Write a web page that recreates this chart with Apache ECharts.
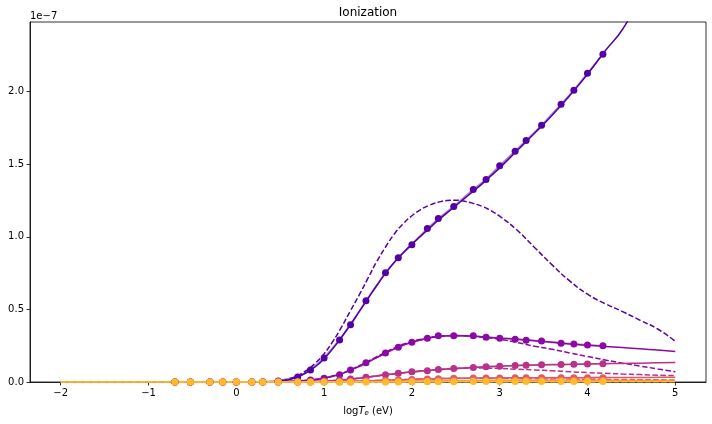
<!DOCTYPE html>
<html>
<head>
<meta charset="utf-8">
<script src="https://cdn.jsdelivr.net/npm/echarts@6/dist/echarts.min.js"></script>
<style>html,body{margin:0;padding:0;background:#fff;}#c{width:712px;height:424px;}</style>
</head>
<body>
<div id="c"></div>
<script>
// x grid (log10 Te) for model curves
const fitX = [-2,-1.5,-1,-0.5,0,0.2,0.4,0.5,0.6,0.7,0.8,0.9,1.0,1.1,1.2,1.3,1.4,1.5,1.6,1.7,1.8,1.9,2.0,2.1,2.2,2.3,2.4,2.5,2.6,2.7,2.8,2.9,3.0,3.2,3.4,3.6,3.8,4.0,4.2,4.4,4.6,4.8,5.0];
// values in units of 1e-7
const fit1 = [0,0,0,0,0,0,0.001,0.005,0.015,0.035,0.065,0.105,0.16,0.23,0.31,0.395,0.485,0.575,0.665,0.75,0.825,0.89,0.95,1.005,1.06,1.115,1.165,1.215,1.265,1.315,1.365,1.42,1.475,1.595,1.715,1.84,1.975,2.12,2.28,2.43,2.66,3.0,3.4];
const dash1 = [0,0,0,0,0,0,0.002,0.008,0.022,0.045,0.08,0.13,0.195,0.28,0.38,0.49,0.60,0.715,0.83,0.93,1.02,1.09,1.145,1.188,1.218,1.238,1.25,1.252,1.245,1.23,1.21,1.18,1.142,1.045,0.925,0.805,0.695,0.605,0.54,0.485,0.425,0.365,0.28];
const fit2 = [0,0,0,0,0,0,0,0.001,0.003,0.006,0.01,0.016,0.026,0.04,0.057,0.08,0.107,0.137,0.168,0.198,0.228,0.254,0.274,0.29,0.304,0.313,0.318,0.32,0.319,0.316,0.311,0.306,0.302,0.294,0.284,0.273,0.262,0.253,0.245,0.237,0.229,0.22,0.21];
const dash2 = [0,0,0,0,0,0,0,0.001,0.003,0.006,0.01,0.017,0.027,0.042,0.06,0.084,0.112,0.143,0.175,0.205,0.235,0.26,0.28,0.295,0.307,0.315,0.319,0.32,0.318,0.314,0.309,0.303,0.295,0.272,0.246,0.225,0.2,0.176,0.152,0.13,0.11,0.09,0.071];
const fit3 = [0,0,0,0,0,0,0,0,0,0,0.001,0.003,0.006,0.009,0.013,0.019,0.026,0.034,0.042,0.05,0.057,0.064,0.07,0.075,0.08,0.085,0.089,0.093,0.097,0.1,0.103,0.106,0.109,0.113,0.117,0.12,0.122,0.124,0.126,0.128,0.13,0.132,0.134];
const dash3 = [0,0,0,0,0,0,0,0,0,0,0.001,0.003,0.006,0.009,0.013,0.019,0.026,0.034,0.042,0.05,0.057,0.064,0.07,0.075,0.08,0.085,0.089,0.093,0.095,0.096,0.096,0.095,0.093,0.088,0.083,0.077,0.071,0.065,0.06,0.055,0.051,0.047,0.044];
const fit4 = [0,0,0,0,0,0,0,0,0,0,0,0,0,0.001,0.002,0.004,0.006,0.008,0.01,0.012,0.014,0.016,0.018,0.02,0.021,0.023,0.024,0.025,0.026,0.027,0.027,0.028,0.028,0.029,0.029,0.03,0.03,0.03,0.031,0.031,0.031,0.032,0.032];
const dash4 = [0,0,0,0,0,0,0,0,0,0,0,0,0,0.001,0.002,0.004,0.006,0.008,0.01,0.012,0.014,0.016,0.018,0.02,0.021,0.023,0.024,0.025,0.025,0.025,0.025,0.025,0.024,0.023,0.022,0.021,0.02,0.019,0.018,0.017,0.016,0.015,0.014];
const fit5 = [0,0,0,0,0,0,0,0,0,0,0,0,0,0,0,0,0.001,0.001,0.002,0.003,0.004,0.004,0.005,0.006,0.007,0.007,0.008,0.008,0.009,0.009,0.01,0.01,0.01,0.01,0.011,0.011,0.011,0.011,0.011,0.011,0.011,0.011,0.011];
const dash5 = [0,0,0,0,0,0,0,0,0,0,0,0,0,0,0,0,0.001,0.001,0.002,0.003,0.004,0.004,0.005,0.006,0.007,0.007,0.008,0.008,0.008,0.008,0.008,0.008,0.008,0.008,0.008,0.007,0.007,0.007,0.007,0.006,0.006,0.006,0.006];
const fit6 = [0,0,0,0,0,0,0,0,0,0,0,0,0,0,0,0,0,0,0.001,0.001,0.001,0.002,0.002,0.002,0.002,0.003,0.003,0.003,0.003,0.003,0.003,0.003,0.003,0.003,0.003,0.003,0.003,0.003,0.003,0.003,0.003,0.003,0.003];
const dash6 = [0,0,0,0,0,0,0,0,0,0,0,0,0,0,0,0,0,0,0.001,0.001,0.001,0.002,0.002,0.002,0.002,0.002,0.002,0.002,0.002,0.002,0.002,0.002,0.002,0.002,0.002,0.002,0.002,0.002,0.002,0.002,0.002,0.002,0.002];

// measured points (log10 Te)
const dataX = [-0.699,-0.523,-0.301,-0.155,0,0.176,0.301,0.477,0.699,0.845,1,1.176,1.301,1.477,1.699,1.845,2,2.176,2.301,2.477,2.699,2.845,3,3.176,3.301,3.477,3.699,3.845,4,4.176];
const data1 = [0,0,0,0,0,0,0.001,0.007,0.035,0.083,0.166,0.29,0.394,0.56,0.753,0.856,0.946,1.057,1.126,1.209,1.326,1.395,1.49,1.59,1.664,1.768,1.913,2.01,2.127,2.258];
const data2 = [0,0,0,0,0,0,0,0,0.007,0.014,0.026,0.05,0.083,0.133,0.2,0.24,0.274,0.302,0.318,0.318,0.318,0.309,0.302,0.295,0.288,0.282,0.267,0.262,0.255,0.249];
const data3 = [0,0,0,0,0,0,0,0,0,0.003,0.007,0.013,0.02,0.033,0.05,0.06,0.07,0.078,0.086,0.093,0.1,0.105,0.109,0.113,0.116,0.118,0.12,0.122,0.124,0.125];
const data4 = [0,0,0,0,0,0,0,0,0,0,0.001,0.002,0.004,0.008,0.012,0.015,0.018,0.021,0.023,0.025,0.027,0.028,0.028,0.029,0.029,0.03,0.03,0.03,0.03,0.03];
const data5 = [0,0,0,0,0,0,0,0,0,0,0,0,0,0.001,0.002,0.003,0.004,0.005,0.006,0.007,0.008,0.009,0.009,0.01,0.01,0.01,0.01,0.01,0.01,0.01];
const data6 = [0,0,0,0,0,0,0,0,0,0,0,0,0,0,0,0,0.001,0.001,0.002,0.002,0.003,0.003,0.003,0.003,0.003,0.003,0.003,0.003,0.003,0.003];

const colors = ['#5302a3','#8b0aa5','#b83289','#db5c68','#f48849','#feba2c'];
const xTicks = [-2,-1,0,1,2,3,4,5];
const yTicks = [0,0.5,1.0,1.5,2.0];
const titleText = 'Ionization';
const offsetText = '1e\u22127';

const fits = [fit1,fit2,fit3,fit4,fit5,fit6];
const dashes = [dash1,dash2,dash3,dash4,dash5,dash6];
const datas = [data1,data2,data3,data4,data5,data6];

const pair = (xs, ys) => xs.map((x, i) => [x, ys[i]]);
const series = [];
for (let k = 0; k < 6; k++) {
  series.push({
    type: 'line', data: pair(fitX, fits[k]), showSymbol: false, symbol: 'none',
    smooth: 0.5, clip: true,
    lineStyle: { color: colors[k], width: 1.5 }, silent: true
  });
  series.push({
    type: 'line', data: pair(fitX, dashes[k]), showSymbol: false, symbol: 'none',
    smooth: 0.5, clip: true,
    lineStyle: { color: colors[k], width: 1.5, type: [5.5, 2.4] }, silent: true
  });
  series.push({
    type: 'line', data: pair(dataX, datas[k]), symbol: 'circle', symbolSize: 7, showSymbol: true,
    clip: true,
    itemStyle: { color: colors[k], borderWidth: 0 },
    lineStyle: { color: colors[k], width: 1.8, opacity: 0.5 }, silent: true
  });
}

const font = 'DejaVu Sans';
const chart = echarts.init(document.getElementById('c'), null, { renderer: 'canvas' });
chart.setOption({
  animation: false,
  backgroundColor: '#fff',
  grid: { left: 30, top: 22, right: 6, bottom: 42, show: true, borderColor: '#000', borderWidth: 0.8, backgroundColor: 'transparent' },
  xAxis: {
    type: 'value', min: -2.35, max: 5.35,
    name: '{n|log}{i|T}{s|e}{n| (eV)}', nameLocation: 'middle', nameGap: 23,
    nameTextStyle: { rich: {
      n: { fontFamily: font, fontSize: 10, color: '#000' },
      i: { fontFamily: font, fontSize: 10, fontStyle: 'italic', color: '#000' },
      s: { fontFamily: font, fontSize: 7, fontStyle: 'italic', color: '#000', padding: [5, 0, 0, 0] }
    } },
    axisLine: { show: true, onZero: false, lineStyle: { color: '#000', width: 0.8 } },
    axisTick: { show: true, length: 3.5, lineStyle: { color: '#000', width: 0.8 }, customValues: xTicks },
    axisLabel: { fontFamily: font, fontSize: 10, color: '#000', margin: 6, customValues: xTicks,
      formatter: v => (v < 0 ? '\u2212' + Math.abs(v) : String(v)) },
    splitLine: { show: false }
  },
  yAxis: {
    type: 'value', min: 0, max: 2.48,
    axisLine: { show: true, onZero: false, lineStyle: { color: '#000', width: 0.8 } },
    axisTick: { show: true, length: 3.5, lineStyle: { color: '#000', width: 0.8 }, customValues: yTicks },
    axisLabel: { fontFamily: font, fontSize: 10, color: '#000', margin: 6, customValues: yTicks,
      formatter: v => v.toFixed(1) },
    splitLine: { show: false }
  },
  graphic: [
    { type: 'text', x: 368, y: 13, style: { text: titleText, fontFamily: font, fontSize: 12, fill: '#000', align: 'center', verticalAlign: 'middle' } },
    { type: 'text', x: 30, y: 16, style: { text: offsetText, fontFamily: font, fontSize: 10, fill: '#000', align: 'left', verticalAlign: 'middle' } }
  ],
  series: series
});
</script>
</body>
</html>
